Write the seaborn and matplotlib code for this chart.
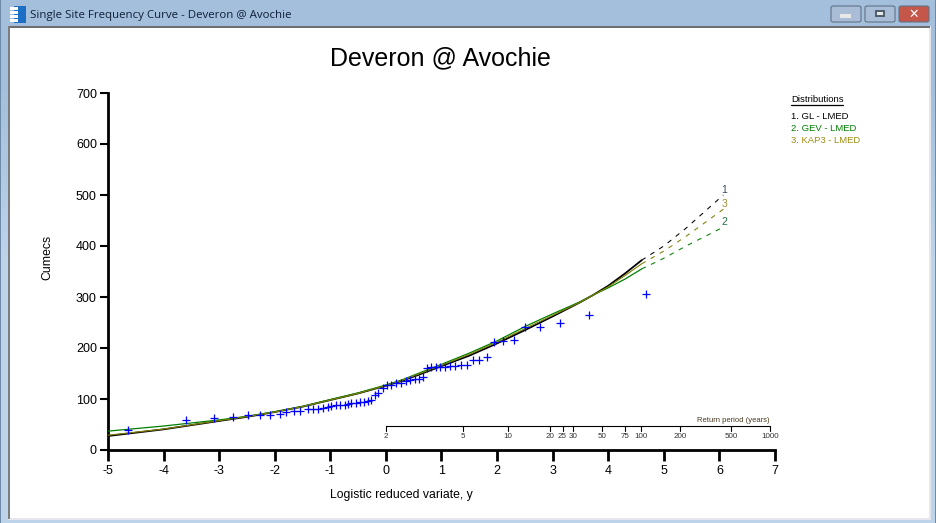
import numpy as np
import pandas as pd
import seaborn as sns
import matplotlib.pyplot as plt
from matplotlib.patches import Rectangle, FancyBboxPatch

W, H = 936, 523

# observed points (reduced variate, cumecs)
obs_x = [-4.64, -3.6, -3.1, -2.75, -2.49, -2.27, -2.09, -1.91, -1.79, -1.65, -1.54, -1.40, -1.31, -1.22,
         -1.13, -1.05, -0.98, -0.89, -0.82, -0.74, -0.68, -0.62, -0.54, -0.47, -0.40, -0.32, -0.27, -0.2,
         -0.14, -0.05, 0.02, 0.1, 0.19, 0.28, 0.37, 0.44, 0.52, 0.59, 0.67, 0.74, 0.82, 0.9, 0.98, 1.06,
         1.15, 1.24, 1.35, 1.45, 1.57, 1.68, 1.82, 1.95, 2.11, 2.31, 2.51, 2.78, 3.14, 3.65, 4.68]
obs_y = [39, 59, 63, 65, 69, 69, 69, 71, 74, 77, 77, 80, 80, 80,
         82, 85, 86, 88, 88, 89, 91, 92, 93, 95, 95, 97, 99, 108,
         112, 122, 127, 128, 132, 132, 135, 137, 139, 140, 144, 160, 162, 162, 162, 162,
         164, 165, 166, 167, 176, 177, 183, 211, 214, 216, 241, 242, 250, 265, 306]

# fitted curves, solid part then dashed part
curve_x = [-5, -4, -3, -2.5, -2, -1.5, -1, -0.5, 0, 0.3, 0.6, 1, 1.5, 2, 2.5, 3, 3.5, 3.73, 4, 4.3, 4.6]
gl_y = [27.5, 40.5, 57, 65, 74.5, 85, 98, 111, 126, 136, 148, 164.5, 185, 209, 235, 262, 290, 304, 322, 346, 372]
gev_y = [37, 47, 59, 66, 75, 85.5, 99, 112, 127.5, 138, 151, 168, 190, 214, 242, 267, 291, 304, 318, 335, 355]
kap_y = [29, 41, 57.5, 65.5, 74.5, 85, 98, 111, 126.5, 137, 149.5, 166, 187.5, 211.5, 238, 264, 290, 304, 320, 342, 365]

tail_x = [4.6, 5, 5.4, 6.07]
gl_tail = [372, 400, 435, 500]
gev_tail = [355, 376, 400, 437]
kap_tail = [365, 390, 419, 472]

return_periods = [2, 5, 10, 20, 25, 30, 50, 75, 100, 200, 500, 1000]
x_ticks = [-5, -4, -3, -2, -1, 0, 1, 2, 3, 4, 5, 6, 7]
y_ticks = [0, 100, 200, 300, 400, 500, 600, 700]
legend_names = ['1. GL - LMED', '2. GEV - LMED', '3. KAP3 - LMED']
BLACK, GREEN, OLIVE = '#000000', '#008000', '#808000'

sns.set_theme(style='ticks')
plt.rcParams['font.family'] = ['Liberation Sans', 'DejaVu Sans']
plt.rcParams['axes.unicode_minus'] = False

fig = plt.figure(figsize=(W / 100, H / 100), dpi=100, facecolor='#bcd3ea')


def fx(px):
    return px / W


def fy(py):
    return 1 - py / H


def rect(x0, y0, x1, y1, color, z=1, **kw):
    fig.add_artist(Rectangle((fx(x0), fy(y1)), (x1 - x0) / W, (y1 - y0) / H, transform=fig.transFigure,
                             facecolor=color, edgecolor='none', zorder=z, **kw))


# window chrome
bg = fig.add_axes([0, 0, 1, 1], zorder=-5)
bg.axis('off')
grad = np.array([[0.64, 0.75, 0.86], [0.74, 0.83, 0.92], [0.74, 0.83, 0.92]]).reshape(3, 1, 3)
bg.imshow(grad, aspect='auto', extent=[0, W, H, 0], interpolation='bilinear')
rect(8, 26, 931, 520, '#e4e8ec', z=-4)
rect(8, 26, 930, 28, '#6d6d6d', z=-4)
rect(8, 26, 10, 519, '#7d7d7d', z=-4)
rect(10, 28, 929, 518, 'white', z=-3)
rect(0, 0, 1, H, '#6f8aa8', z=-4)
rect(935, 0, 936, H, '#6f8aa8', z=-4)

# title bar icon
rect(14, 6, 26, 23, '#1c6fc4', z=-2)
for iy in (7, 11, 15, 19):
    rect(10, iy, 18, iy + 2.5, 'white', z=-2)

fig.text(fx(30), fy(15.5), 'Single Site Frequency Curve - Deveron @ Avochie', family=['Open Sans', 'DejaVu Sans'],
         fontsize=8.25, color='#10203a', ha='left', va='center')

# window buttons
for x0, x1, col in [(831, 861, '#a9bed6'), (865, 895, '#a9bed6'), (899, 929, '#c4564a')]:
    fig.add_artist(FancyBboxPatch((fx(x0), fy(22)), (x1 - x0) / W, 16 / H, boxstyle='round,pad=0,rounding_size=0.003',
                                  transform=fig.transFigure, facecolor=col, edgecolor='#5f7387', linewidth=0.8, zorder=-2))
rect(840, 14, 851, 18, '#e8e8e8', z=-1)
rect(875, 10, 885, 17, '#50606f', z=-1)
rect(877, 12, 883, 15, '#e8e8e8', z=-1)
fig.text(fx(914), fy(14), '✕', family=['DejaVu Sans'], fontsize=9, fontweight='bold', color='white', ha='center', va='center')

ax = fig.add_axes([fx(108), fy(450), (775 - 108) / W, (450 - 93) / H], facecolor='none')

sns.scatterplot(x=obs_x, y=obs_y, marker='+', color='#0000ff', s=38, linewidth=0.9, ax=ax, clip_on=False, zorder=5)

for ys, col, lw in [(gl_y, BLACK, 1.3), (gev_y, GREEN, 0.9), (kap_y, OLIVE, 0.8)]:
    sns.lineplot(x=curve_x, y=ys, color=col, linewidth=lw, estimator=None, errorbar=None, ax=ax, zorder=4)
for ys, col in [(gl_tail, BLACK), (gev_tail, GREEN), (kap_tail, OLIVE)]:
    sns.lineplot(x=tail_x, y=ys, color=col, linewidth=0.75, linestyle=(0, (4.5, 5.5)), estimator=None, errorbar=None, ax=ax, zorder=4)

ax.set_xlim(-5, 7)
ax.set_ylim(0, 700)
ax.set_xticks(x_ticks)
ax.set_yticks(y_ticks)
ax.tick_params(axis='x', length=8, width=2, labelsize=9, pad=3, color='black', labelcolor='black')
ax.tick_params(axis='y', length=6, width=1.5, labelsize=9, pad=2, color='black', labelcolor='black')
sns.despine(ax=ax)
for side in ('left', 'bottom'):
    ax.spines[side].set_linewidth(2)
    ax.spines[side].set_color('black')

ax.set_xlabel('Logistic reduced variate, y', fontsize=8.8, color='black')
ax.xaxis.set_label_coords((401.5 - 108) / 667, -(495 - 450) / 357, transform=ax.transAxes)
ax.xaxis.label.set_va('center')
ax.set_ylabel('Cumecs', fontsize=8.8, color='black')
ax.yaxis.set_label_coords(-(108 - 47.5) / 667, (450 - 257) / 357, transform=ax.transAxes)
ax.yaxis.label.set_va('center')

fig.text(fx(440.5), fy(58), 'Deveron @ Avochie', fontsize=18, color='black', ha='center', va='center')

# return period scale sits inside the plot, y = ln(T - 1)
rp_pos = np.log(np.array(return_periods) - 1.0)
rp_base = (450 - 426) / 0.51
rp_tip = (450 - 431) / 0.51
rp_text = (450 - 436) / 0.51
ax.plot([rp_pos[0], rp_pos[-1]], [rp_base, rp_base], color='black', lw=0.8)
for p, t in zip(rp_pos, return_periods):
    ax.plot([p, p], [rp_base, rp_tip], color='black', lw=0.8)
    ax.text(p, rp_text, str(t), fontsize=5.8, color='#333333', ha='center', va='center')
ax.text(rp_pos[-1], (450 - 421) / 0.51, 'Return period (years)', fontsize=5.5, color='#4a3a20', ha='right', va='center')

# curve end labels
for txt, yv, col in [('1', 509, '#3a4a5a'), ('3', 483, '#a08c30'), ('2', 448, '#207040')]:
    ax.text(6.04, yv, txt, fontsize=7.5, color=col, ha='left', va='center')

# legend
fig.text(fx(791), fy(99), 'Distributions', fontsize=6.8, color='black', ha='left', va='center')
fig.add_artist(plt.Line2D([fx(791), fx(843)], [fy(105), fy(105)], color='black', lw=0.9, transform=fig.transFigure))
for name, py, col in zip(legend_names, [116.5, 128.5, 140.5], ['black', GREEN, '#a08c10']):
    fig.text(fx(791), fy(py), name, fontsize=6.8, color=col, ha='left', va='center')

fig.savefig('out.png', dpi=100, facecolor=fig.get_facecolor())
